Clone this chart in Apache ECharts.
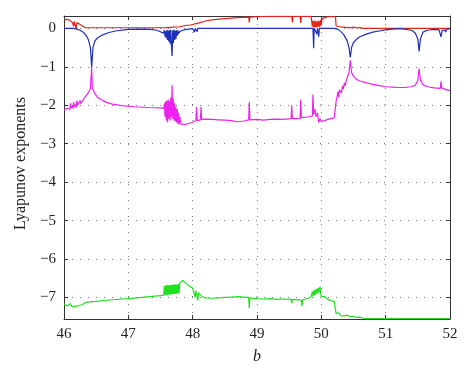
<!DOCTYPE html>
<html>
<head>
<meta charset="utf-8">
<script src="https://cdn.jsdelivr.net/npm/echarts@6/dist/echarts.min.js"></script>
<style>
html,body{margin:0;padding:0;background:#fff;}
#chart{width:474px;height:380px;}
</style>
</head>
<body>
<div id="chart"></div>
<script>
var xTicks = [46, 47, 48, 49, 50, 51, 52];
var yTicks = [0, -1, -2, -3, -4, -5, -6, -7];

var red = [
[46.00,0.22],[46.02,0.20],[46.04,0.23],[46.06,0.19],[46.08,0.22],[46.10,0.17],[46.11,0.21],[46.13,0.15],[46.14,0.19],[46.15,0.05],[46.16,0.18],[46.18,0.14],[46.19,-0.03],[46.20,0.15],[46.22,0.12],[46.23,0.16],[46.25,0.10],[46.27,0.12],[46.29,0.06],[46.31,0.03],[46.33,0.015],
[46.6,0.015],[47.0,0.015],[47.3,0.015],[47.55,0.015],[47.6,0.02],[47.7,0.03],[47.8,0.04],[47.85,0.06],[47.9,0.08],[47.95,0.08],[48.0,0.10],[48.05,0.12],[48.1,0.14],[48.13,0.17],[48.2,0.19],[48.3,0.22],[48.5,0.25],[48.7,0.28],
[48.87,0.29],[48.88,0.15],[48.89,0.29],[49.0,0.30],[49.2,0.31],[49.4,0.31],[49.54,0.31],[49.55,0.15],[49.56,0.31],[49.67,0.31],[49.68,0.14],[49.69,0.31],[49.84,0.31],
[49.85,0.30],[49.86,0.05],[49.87,0.20],[49.88,0.02],[49.89,0.18],[49.90,0.03],[49.91,0.20],[49.92,0.02],[49.93,0.17],[49.94,0.04],[49.95,0.20],[49.96,0.03],[49.97,0.18],[49.98,0.05],[49.99,0.22],[50.00,0.08],[50.01,0.25],[50.02,0.30],
[50.1,0.30],[50.22,0.30],[50.23,0.06],[50.25,0.03],[50.26,0.08],[50.28,0.04],[50.30,0.07],[50.32,0.03],[50.34,0.06],[50.36,0.03],[50.38,0.05],[50.40,0.02],[50.43,0.04],[50.46,0.02],[50.50,0.03],[50.55,0.01],[50.60,0.02],[50.65,0.0],[51.5,0.0],[52.0,0.0]
];

var blue = [
[46.00,0],[46.15,0],[46.2,-0.02],[46.25,-0.05],[46.3,-0.1],[46.35,-0.2],[46.38,-0.3],[46.41,-0.5],[46.43,-1.02],[46.45,-0.5],[46.48,-0.33],[46.52,-0.25],[46.6,-0.17],[46.7,-0.11],[46.8,-0.07],[47.0,-0.03],[47.2,-0.02],[47.35,-0.03],[47.44,-0.05],[47.5,-0.09],[47.54,-0.13],
[47.55,-0.15],[47.56,-0.05],[47.57,-0.22],[47.58,-0.08],[47.59,-0.26],[47.60,-0.04],[47.61,-0.30],[47.62,-0.06],[47.63,-0.35],[47.64,-0.05],[47.65,-0.40],[47.66,-0.03],[47.67,-0.45],[47.68,-0.72],[47.69,-0.05],[47.70,-0.38],[47.71,-0.04],[47.72,-0.30],[47.73,-0.06],[47.74,-0.28],[47.75,-0.05],[47.76,-0.20],[47.77,-0.05],[47.78,-0.15],[47.80,-0.08],[47.85,-0.05],[47.90,-0.03],[48.0,-0.01],
[48.03,-0.1],[48.04,0],[48.07,-0.09],[48.08,0],[48.5,0],[49.0,0],[49.5,0],[49.87,0],[49.88,-0.52],[49.89,0],[49.93,-0.15],[49.94,0],[49.96,-0.22],[49.97,0],[50.2,0],[50.25,-0.02],
[50.3,-0.08],[50.35,-0.17],[50.4,-0.32],[50.43,-0.5],[50.45,-0.76],[50.47,-0.5],[50.5,-0.37],[50.55,-0.28],[50.6,-0.22],[50.7,-0.15],[50.8,-0.1],[50.9,-0.07],[51.0,-0.04],[51.1,-0.02],[51.2,-0.01],[51.3,-0.02],[51.4,-0.05],[51.46,-0.12],[51.5,-0.28],[51.52,-0.6],[51.54,-0.28],[51.58,-0.1],[51.65,-0.05],[51.75,-0.03],[51.83,-0.04],[51.86,-0.22],[51.88,-0.05],[51.92,-0.04],[51.93,-0.1],[51.95,-0.03],[52.0,-0.01]
];

var magenta = [
[46.00,-2.13],[46.02,-2.10],[46.03,-2.14],[46.05,-2.08],[46.06,-2.12],[46.08,-2.05],[46.09,-2.11],[46.10,-1.95],[46.11,-2.08],[46.13,-2.02],[46.14,-2.09],[46.15,-1.92],[46.16,-2.04],[46.18,-1.98],[46.19,-2.06],[46.20,-1.88],[46.21,-2.00],[46.23,-1.95],[46.24,-2.02],[46.25,-1.88],[46.26,-1.96],[46.28,-1.90],[46.30,-1.85],[46.33,-1.78],[46.36,-1.72],[46.39,-1.64],[46.41,-1.57],[46.42,-1.52],[46.43,-1.02],[46.44,-1.55],[46.45,-1.60],[46.48,-1.70],[46.52,-1.79],[46.58,-1.86],[46.65,-1.92],[46.75,-1.97],[46.9,-2.01],[47.1,-2.04],[47.3,-2.06],[47.5,-2.07],[47.55,-2.08],
[47.56,-1.95],[47.57,-2.30],[47.58,-1.90],[47.59,-2.40],[47.60,-1.88],[47.61,-2.45],[47.62,-1.85],[47.63,-2.35],[47.64,-1.90],[47.65,-2.40],[47.66,-1.80],[47.67,-2.30],[47.68,-1.48],[47.69,-2.35],[47.70,-1.85],[47.71,-2.40],[47.72,-1.95],[47.73,-2.42],[47.74,-2.05],[47.75,-2.45],[47.76,-2.10],[47.77,-2.48],[47.78,-2.20],[47.79,-2.50],[47.80,-2.30],[47.82,-2.50],
[47.85,-2.50],[47.9,-2.49],[47.95,-2.47],[48.0,-2.45],[48.05,-2.40],[48.06,-2.05],[48.07,-2.40],[48.12,-2.38],[48.13,-2.05],[48.14,-2.37],[48.2,-2.36],[48.3,-2.37],[48.4,-2.38],[48.5,-2.39],[48.6,-2.40],[48.7,-2.43],[48.8,-2.41],[48.87,-2.38],[48.88,-1.92],[48.89,-2.38],[49.0,-2.37],[49.1,-2.39],[49.2,-2.37],[49.3,-2.36],[49.4,-2.37],[49.53,-2.35],[49.54,-2.00],[49.55,-2.35],[49.67,-2.34],[49.68,-1.85],[49.69,-2.33],[49.8,-2.30],[49.86,-2.28],[49.87,-1.72],[49.88,-2.25],[49.90,-2.10],[49.92,-2.30],[49.94,-2.20],[49.96,-2.45],[49.98,-2.35],[50.0,-2.42],[50.05,-2.40],[50.1,-2.37],[50.15,-2.35],[50.2,-2.33],[50.22,-2.30],
[50.23,-1.90],[50.25,-1.85],[50.26,-1.65],[50.27,-1.80],[50.28,-1.60],[50.30,-1.55],[50.31,-1.68],[50.33,-1.50],[50.34,-1.58],[50.36,-1.42],[50.37,-1.50],[50.39,-1.35],[50.41,-1.30],[50.43,-1.15],[50.45,-0.83],[50.47,-1.15],[50.50,-1.25],[50.52,-1.30],[50.53,-1.25],[50.55,-1.33],[50.6,-1.37],[50.7,-1.42],[50.8,-1.46],[50.9,-1.49],[51.0,-1.52],[51.1,-1.53],[51.2,-1.54],[51.3,-1.54],[51.4,-1.52],[51.46,-1.48],[51.50,-1.35],[51.52,-1.05],[51.54,-1.35],[51.58,-1.47],[51.65,-1.52],[51.75,-1.55],[51.85,-1.56],[51.86,-1.38],[51.87,-1.55],[51.9,-1.56],[51.95,-1.60],[52.0,-1.62]
];

var green = [
[46.00,-7.17],[46.02,-7.20],[46.03,-7.15],[46.05,-7.22],[46.06,-7.17],[46.08,-7.21],[46.10,-7.16],[46.12,-7.23],[46.14,-7.18],[46.16,-7.24],[46.18,-7.19],[46.20,-7.22],[46.22,-7.18],[46.24,-7.21],[46.26,-7.17],[46.28,-7.19],[46.30,-7.14],[46.35,-7.12],[46.5,-7.10],[46.75,-7.06],[47.0,-7.03],[47.25,-6.99],[47.5,-6.95],[47.55,-6.94],
[47.56,-6.70],[47.57,-6.94],[47.58,-6.69],[47.59,-6.93],[47.60,-6.68],[47.61,-6.94],[47.62,-6.68],[47.63,-6.93],[47.64,-6.69],[47.65,-6.92],[47.66,-6.67],[47.67,-6.92],[47.68,-6.68],[47.69,-6.91],[47.70,-6.67],[47.71,-6.91],[47.72,-6.66],[47.73,-6.90],[47.74,-6.67],[47.75,-6.90],[47.76,-6.66],[47.77,-6.89],[47.78,-6.65],[47.79,-6.88],[47.80,-6.62],
[47.82,-6.60],[47.85,-6.56],[47.87,-6.60],[47.90,-6.64],[47.95,-6.70],[48.0,-6.76],[48.03,-6.80],[48.04,-7.00],[48.05,-6.82],[48.07,-6.85],[48.08,-7.08],[48.09,-6.88],[48.12,-6.93],[48.15,-6.98],[48.2,-7.01],[48.3,-7.02],[48.4,-7.01],[48.5,-7.00],[48.6,-6.99],[48.7,-6.98],[48.8,-6.99],[48.87,-7.00],[48.88,-7.27],[48.89,-7.01],[49.0,-7.03],[49.1,-7.04],[49.2,-7.03],[49.3,-7.05],[49.4,-7.04],[49.53,-7.05],[49.54,-7.15],[49.55,-7.05],[49.69,-7.07],[49.70,-7.23],[49.71,-7.06],[49.8,-7.02],[49.84,-6.98],
[49.85,-6.98],[49.86,-6.85],[49.87,-6.97],[49.88,-6.82],[49.89,-6.95],[49.90,-6.80],[49.91,-6.93],[49.92,-6.78],[49.93,-6.90],[49.94,-6.76],[49.95,-6.88],[49.96,-6.75],[49.97,-6.85],[49.98,-6.72],[49.99,-6.90],[50.0,-6.98],
[50.03,-7.00],[50.05,-6.97],[50.1,-7.05],[50.15,-7.08],[50.2,-7.10],[50.22,-7.12],[50.23,-7.42],[50.25,-7.45],[50.27,-7.40],[50.30,-7.47],[50.33,-7.43],[50.36,-7.48],[50.40,-7.46],[50.45,-7.50],[50.50,-7.49],[50.55,-7.52],[50.60,-7.51],[50.65,-7.54],[50.70,-7.55],[51.5,-7.55],[52.0,-7.55]
];

var FONT = 'Liberation Serif';
function fmt(v){ return v < 0 ? '\u2212' + Math.abs(v) : String(v); }

var chart = echarts.init(document.getElementById('chart'), null, {renderer:'canvas'});
function mkSeries(name, data, color){
  return {name:name, type:'line', data:data, symbol:'none', xAxisIndex:0, yAxisIndex:0,
    lineStyle:{color:color, width:1.2}, animation:false, clip:true};
}
var gridLine = {show:true, lineStyle:{color:'#777', type:[1,7], width:1}};
chart.setOption({
  animation:false,
  backgroundColor:'#fff',
  grid:{left:64, right:24, top:16, bottom:61, show:false},
  xAxis:[{
    type:'value', min:46, max:52, interval:1, position:'bottom',
    axisLine:{show:true, onZero:false, lineStyle:{color:'#333', width:1}},
    axisTick:{show:true, inside:true, length:4, lineStyle:{color:'#333'}},
    axisLabel:{color:'#222', fontFamily:FONT, fontSize:15, margin:8, formatter:fmt},
    splitLine:gridLine,
    name:'b', nameLocation:'middle', nameGap:30,
    nameTextStyle:{fontFamily:FONT, fontStyle:'italic', fontSize:16, color:'#222'}
  },{
    type:'value', min:46, max:52, interval:1, position:'top',
    axisLine:{show:true, onZero:false, lineStyle:{color:'#333', width:1}},
    axisTick:{show:true, inside:true, length:4, lineStyle:{color:'#333'}},
    axisLabel:{show:false}, splitLine:{show:false}
  }],
  yAxis:[{
    type:'value', min:-7.56, max:0.32, position:'left',
    axisLine:{show:true, onZero:false, lineStyle:{color:'#333', width:1}},
    axisTick:{show:true, inside:true, length:4, lineStyle:{color:'#333'}, customValues:yTicks},
    axisLabel:{color:'#222', fontFamily:FONT, fontSize:15, margin:8, formatter:fmt, customValues:yTicks},
    splitLine:gridLine,
    name:'Lyapunov exponents', nameLocation:'middle', nameGap:33, nameRotate:90,
    nameTextStyle:{fontFamily:FONT, fontSize:16, color:'#222', padding:[0,0,0,8]}
  },{
    type:'value', min:-7.56, max:0.32, position:'right',
    axisLine:{show:true, onZero:false, lineStyle:{color:'#333', width:1}},
    axisTick:{show:true, inside:true, length:4, lineStyle:{color:'#333'}, customValues:yTicks},
    axisLabel:{show:false}, splitLine:{show:false}
  }],
  series:[
    mkSeries('red', red, '#e8231e'),
    mkSeries('blue', blue, '#1e2fb8'),
    mkSeries('magenta', magenta, '#ee22ee'),
    mkSeries('green', green, '#22e022')
  ]
});
</script>
</body>
</html>
